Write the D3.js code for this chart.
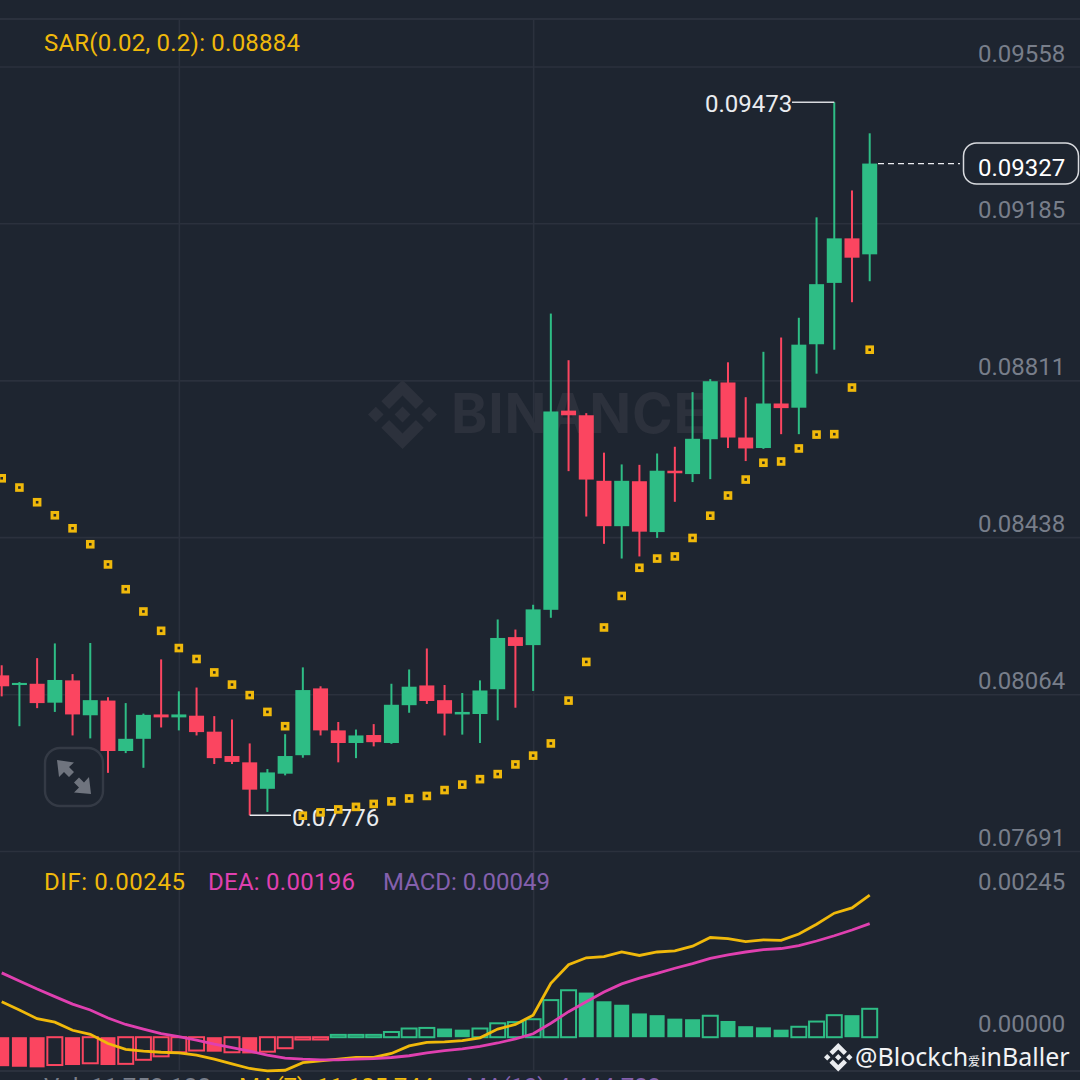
<!DOCTYPE html>
<html>
<head>
<meta charset="utf-8">
<script src="https://cdn.jsdelivr.net/npm/d3@7"></script>
<style>
  html, body { margin: 0; padding: 0; background: #1e2530; overflow: hidden; }
  text { font-family: Roboto, sans-serif; }
</style>
</head>
<body>
<div id="chart"></div>
<script>
// Candles, left to right
var highs = [0.08133,0.08093,0.08150,0.08185,0.08112,0.08186,0.08057,0.08043,0.08018,0.08147,
  0.08071,0.08080,0.08012,0.08004,0.07947,0.07886,0.07969,0.08128,0.08083,0.07998,
  0.07980,0.07993,0.08089,0.08123,0.08173,0.08086,0.08067,0.08097,0.08242,0.08218,
  0.08277,0.08970,0.08859,0.08733,0.08639,0.08611,0.08610,0.08637,0.08653,0.08783,
  0.08814,0.08854,0.08771,0.08879,0.08913,0.08960,0.09199,0.09473,0.09263,0.09399];
var opens = [0.08109,0.08086,0.08089,0.08044,0.08097,0.08014,0.08049,0.07929,0.07958,0.08016,
  0.08009,0.08013,0.07975,0.07917,0.07902,0.07839,0.07875,0.07919,0.08078,0.07978,
  0.07948,0.07967,0.07948,0.08038,0.08085,0.08050,0.08016,0.08017,0.08076,0.08200,
  0.08181,0.08265,0.08739,0.08728,0.08572,0.08464,0.08571,0.08450,0.08596,0.08588,
  0.08671,0.08806,0.08675,0.08650,0.08756,0.08746,0.08897,0.09043,0.09149,0.09111];
var closes = [0.08083,0.08091,0.08043,0.08098,0.08016,0.08050,0.07929,0.07958,0.08015,0.08009,
  0.08016,0.07974,0.07912,0.07903,0.07837,0.07878,0.07917,0.08074,0.07978,0.07948,
  0.07966,0.07950,0.08039,0.08082,0.08048,0.08018,0.08022,0.08073,0.08198,0.08179,
  0.08266,0.08737,0.08728,0.08575,0.08464,0.08572,0.08451,0.08596,0.08590,0.08672,
  0.08809,0.08675,0.08649,0.08756,0.08745,0.08896,0.09040,0.09149,0.09103,0.09327];
var lows = [0.08059,0.07988,0.08031,0.08022,0.07966,0.07959,0.07877,0.07924,0.07889,0.07985,
  0.07978,0.07966,0.07898,0.07898,0.07776,0.07784,0.07871,0.07913,0.07966,0.07902,
  0.07912,0.07940,0.07946,0.08020,0.08041,0.07966,0.07968,0.07948,0.08002,0.08032,
  0.08072,0.08246,0.08595,0.08487,0.08422,0.08387,0.08392,0.08436,0.08522,0.08569,
  0.08576,0.08650,0.08619,0.08648,0.08683,0.08683,0.08827,0.08884,0.08997,0.09047];

// Parabolic SAR
var sar = [0.08578,0.08556,0.08521,0.08490,0.08459,0.08421,0.08373,0.08314,0.08261,0.08215,
  0.08174,0.08148,0.08116,0.08087,0.08062,0.08022,0.07988,0.07775,0.07783,0.07790,
  0.07796,0.07803,0.07809,0.07816,0.07822,0.07836,0.07849,0.07862,0.07874,0.07897,
  0.07918,0.07947,0.08049,0.08141,0.08223,0.08298,0.08365,0.08387,0.08392,0.08436,
  0.08489,0.08537,0.08575,0.08615,0.08618,0.08649,0.08682,0.08683,0.08794,0.08884];

// MACD pane
var dif = [0.00061,0.00047,0.00032,0.00026,0.00012,0.00005,-0.00011,-0.00021,-0.00024,-0.00026,
  -0.00027,-0.00031,-0.00038,-0.00046,-0.00054,-0.00058,-0.00057,-0.00044,-0.00041,-0.00038,
  -0.00035,-0.00035,-0.00028,-0.00015,-0.00009,-0.00008,-0.00006,-0.00001,0.00014,0.00022,
  0.00038,0.00093,0.00125,0.00137,0.00139,0.00147,0.00141,0.00147,0.00149,0.00157,
  0.00172,0.00170,0.00165,0.00168,0.00167,0.00178,0.00195,0.00214,0.00223,0.00245];
var dea = [0.00111,0.00097,0.00083,0.00070,0.00057,0.00047,0.00033,0.00022,0.00014,0.00006,
  0.00001,-0.00005,-0.00012,-0.00018,-0.00024,-0.00031,-0.00036,-0.00038,-0.00039,-0.00039,
  -0.00038,-0.00037,-0.00035,-0.00032,-0.00027,-0.00023,-0.00020,-0.00016,-0.00010,-0.00003,
  0.00006,0.00024,0.00044,0.00061,0.00078,0.00092,0.00102,0.00110,0.00119,0.00127,
  0.00136,0.00142,0.00147,0.00151,0.00153,0.00158,0.00166,0.00175,0.00185,0.00196];
var macd = [-0.00050,-0.00051,-0.00052,-0.00048,-0.00048,-0.00045,-0.00048,-0.00046,-0.00039,-0.00033,
  -0.00026,-0.00023,-0.00025,-0.00026,-0.00028,-0.00025,-0.00019,-0.00004,-0.00004,0.00004,
  0.00004,0.00004,0.00009,0.00015,0.00016,0.00015,0.00013,0.00015,0.00024,0.00026,
  0.00031,0.00064,0.00081,0.00077,0.00062,0.00056,0.00041,0.00038,0.00032,0.00031,
  0.00037,0.00028,0.00019,0.00017,0.00013,0.00018,0.00027,0.00038,0.00038,0.00049];
// candles whose MACD bar is outlined in the original
var risingBars = [3,5,7,8,9,10,11,13,15,16,17,18,19,20,21,22,23,24,27,28,29,30,31,32,40,45,46,47,49];

var priceTicks = [0.09558,0.09185,0.08811,0.08438,0.08064,0.07691];
var macdTicks = [0.00245,0.00000];
var timeTicks = [10,30];

var green = "#2ebd85", red = "#fb4560", yellow = "#f0b90b", pink = "#e040b0", purple = "#8460ad";
var bg = "#1e2530", gridColor = "#2b313d", axisColor = "#787e8a";
var fmt = d3.format(".5f");

var svg = d3.select("#chart").append("svg")
  .attr("width", 1080)
  .attr("height", 1080)
  .style("display", "block");

svg.append("rect").attr("width", 1080).attr("height", 1080).attr("fill", bg);

// Scales
var x = d3.scaleLinear().domain([0, 49]).range([1.7, 869.7]);
var y = d3.scaleLinear().domain([0.07691, 0.09558]).range([851, 66.5]);
var yMacd = d3.scaleLinear().domain([0, 0.00245]).range([1037.2, 895.2]);

var candles = d3.range(highs.length);

// Grid
var gridY = d3.axisLeft(y).tickValues(priceTicks).tickSize(-1080).tickFormat("");
svg.append("g").attr("class", "grid").call(gridY);

var gridX = d3.axisBottom(x).tickValues(timeTicks).tickSize(1052).tickFormat("");
svg.append("g").attr("class", "grid").attr("transform", "translate(0,19)").call(gridX);

svg.selectAll(".grid .domain").remove();
svg.selectAll(".grid line").attr("stroke", gridColor).attr("stroke-width", 1.6);

svg.selectAll(".border")
  .data([19, 1071])
  .enter().append("line")
  .attr("x1", 0).attr("x2", 1080)
  .attr("y1", d => d).attr("y2", d => d)
  .attr("stroke", gridColor)
  .attr("stroke-width", 2);

// Binance logo, used for the watermark and next to the handle
var logoPath = "M38.73 53.2l24.59-24.58 24.6 24.6 14.3-14.31L63.32 0 24.43 38.9 38.73 53.2zM0 63.31l14.3-14.31 14.31 14.31-14.31 14.3zM38.73 73.41l24.59 24.59 24.6-24.6 14.31 14.29-.01.01-38.9 38.9-38.89-38.88-.02-.02 14.32-14.29zM97.99 63.31l14.3-14.31 14.31 14.31-14.31 14.3zM77.83 63.3l-14.51-14.52-10.73 10.73-1.24 1.23-2.54 2.54 14.51 14.5 14.51-14.48z";

svg.append("path")
  .attr("d", logoPath)
  .attr("transform", "translate(368,380) scale(0.545)")
  .attr("fill", "#2c313c");

svg.append("text")
  .attr("x", 451)
  .attr("y", 433)
  .attr("fill", "#2c313c")
  .attr("textLength", 256)
  .style("font-family", "Inter, sans-serif")
  .style("font-size", "55px")
  .style("font-weight", 700)
  .text("BINANCE");

// Candles
var candle = svg.append("g").selectAll("g")
  .data(candles)
  .enter().append("g")
  .attr("fill", d => closes[d] >= opens[d] ? green : red);

candle.append("rect")
  .attr("x", d => x(d) - 1)
  .attr("width", 2)
  .attr("y", d => y(highs[d]))
  .attr("height", d => y(lows[d]) - y(highs[d]));

candle.append("rect")
  .attr("x", d => x(d) - 7.5)
  .attr("width", 15)
  .attr("y", d => y(Math.max(opens[d], closes[d])))
  .attr("height", d => Math.abs(y(opens[d]) - y(closes[d])));

// High and low labels
var high = d3.max(highs), low = d3.min(lows);

svg.append("line")
  .attr("x1", 792).attr("x2", x(highs.indexOf(high)))
  .attr("y1", y(high)).attr("y2", y(high))
  .attr("stroke", "#d8dade").attr("stroke-width", 1.5);

svg.append("text")
  .attr("x", 705).attr("y", y(high) + 9.5)
  .attr("fill", "#eaecef")
  .style("font-size", "24px")
  .text(fmt(high));

svg.append("line")
  .attr("x1", x(lows.indexOf(low))).attr("x2", 291)
  .attr("y1", y(low)).attr("y2", y(low))
  .attr("stroke", "#eaecef").attr("stroke-width", 1.5);

svg.append("text")
  .attr("x", 292).attr("y", y(low) + 10.5)
  .attr("fill", "#eaecef")
  .style("font-size", "24px")
  .text(fmt(low));

// SAR dots
svg.append("g").selectAll("rect")
  .data(candles)
  .enter().append("rect")
  .attr("x", d => x(d) - 2.8)
  .attr("y", d => y(sar[d]) - 2.8)
  .attr("width", 5.6)
  .attr("height", 5.6)
  .attr("fill", "#2a2a22")
  .attr("stroke", yellow)
  .attr("stroke-width", 3);

// Price axis
var priceAxis = d3.axisRight(y).tickValues(priceTicks).tickSize(0).tickPadding(0).tickFormat(fmt);
var priceG = svg.append("g").attr("transform", "translate(978,0)").call(priceAxis);

var macdAxis = d3.axisRight(yMacd).tickValues(macdTicks).tickSize(0).tickPadding(0).tickFormat(fmt);
var macdG = svg.append("g").attr("transform", "translate(978,0)").call(macdAxis);

[priceG, macdG].forEach(function(g) {
  g.select(".domain").remove();
  g.selectAll("text")
    .attr("dy", "-5.5px")
    .attr("fill", axisColor)
    .style("font-family", "Roboto, sans-serif")
    .style("font-size", "24px");
});

// Last price tag
var last = closes[closes.length - 1];

svg.append("line")
  .attr("x1", 878).attr("x2", 960)
  .attr("y1", y(last)).attr("y2", y(last))
  .attr("stroke", "#eaecef")
  .attr("stroke-width", 1.3)
  .attr("stroke-dasharray", "6,4");

svg.append("rect")
  .attr("x", 963.5).attr("y", 143)
  .attr("width", 115).attr("height", 41)
  .attr("rx", 13)
  .attr("fill", bg)
  .attr("stroke", "#d8dade")
  .attr("stroke-width", 1.5);

svg.append("text")
  .attr("x", 978).attr("y", 175.5)
  .attr("fill", "#ffffff")
  .style("font-size", "24px")
  .text(fmt(last));

// MACD bars
var bars = svg.append("g").selectAll("rect")
  .data(candles)
  .enter().append("rect")
  .attr("x", d => x(d) - 7.5)
  .attr("width", 15)
  .attr("y", d => yMacd(Math.max(macd[d], 0)))
  .attr("height", d => Math.abs(yMacd(macd[d]) - yMacd(0)))
  .attr("fill", d => risingBars.includes(d) ? "none" : (macd[d] > 0 ? green : red))
  .attr("stroke", d => risingBars.includes(d) ? (macd[d] > 0 ? green : red) : "none")
  .attr("stroke-width", 2);

// DEA and DIF lines
var lineOf = function(values) {
  return d3.line().x(d => x(d)).y(d => yMacd(values[d]))(candles);
};

svg.append("path")
  .attr("d", lineOf(dif))
  .attr("fill", "none")
  .attr("stroke", yellow)
  .attr("stroke-width", 2.8);

svg.append("path")
  .attr("d", lineOf(dea))
  .attr("fill", "none")
  .attr("stroke", pink)
  .attr("stroke-width", 2.8);

// Legends
var legend = [
  {x: 44, y: 51, w: 256, color: yellow, label: "SAR(0.02, 0.2): " + fmt(sar[49])},
  {x: 44, y: 890, w: 141, color: yellow, label: "DIF: " + fmt(dif[49])},
  {x: 208, y: 890, w: 147, color: pink, label: "DEA: " + fmt(dea[49])},
  {x: 383, y: 890, w: 167, color: purple, label: "MACD: " + fmt(macd[49])},
  {x: 44, y: 1095, w: 167, color: axisColor, label: "Vol: 11,753.188"},
  {x: 239, y: 1095, w: 195, color: yellow, label: "MA(7): 11,185.744"},
  {x: 466, y: 1095, w: 195, color: purple, label: "MA(10): 4,444.783"}
];

svg.append("g").selectAll("text")
  .data(legend)
  .enter().append("text")
  .attr("x", d => d.x)
  .attr("y", d => d.y)
  .attr("textLength", d => d.w)
  .attr("fill", d => d.color)
  .style("font-size", "24px")
  .text(d => d.label);

// Fullscreen button
var btn = svg.append("g").attr("transform", "translate(44,747)");

btn.append("rect")
  .attr("x", 1).attr("y", 1)
  .attr("width", 58).attr("height", 58)
  .attr("rx", 15)
  .attr("fill", "none")
  .attr("stroke", "#343a45")
  .attr("stroke-width", 2.4);

btn.append("path")
  .attr("d", "M13 13L30 15.5L25 20L30 25L25 30L20 25L15 30Z M47 47L30 45.5L35 40.5L30 35.5L35 30.5L40 35.5L45 30Z")
  .attr("fill", "#6f747e");

// Handle in the corner
svg.append("path")
  .attr("d", logoPath)
  .attr("transform", "translate(824,1043) scale(0.225)")
  .attr("fill", "#eaecef");

var handle = svg.append("text")
  .attr("x", 855)
  .attr("y", 1066)
  .attr("fill", "#f2f3f5")
  .style("font-family", "'Noto Sans', sans-serif")
  .style("font-size", "25px");

handle.append("tspan").text("@Blockch");
handle.append("tspan")
  .style("font-family", "'Noto Sans CJK SC', sans-serif")
  .style("font-size", "12px")
  .text("爱");
handle.append("tspan").text("inBaller");
</script>
</body>
</html>
